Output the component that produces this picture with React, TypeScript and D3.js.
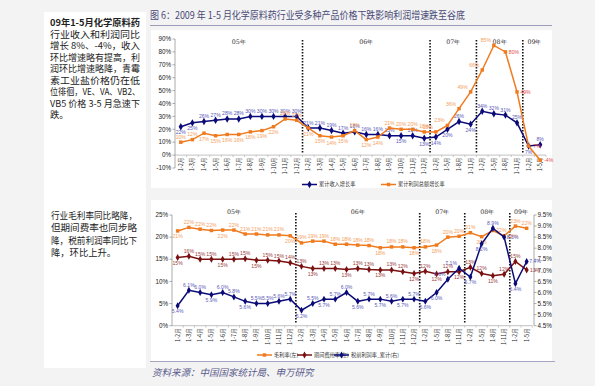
import React from "react";
import * as d3 from "d3";

// ---------- DATA ----------
const yearLabels = ["05年", "06年", "07年", "08年", "09年"];
const months05 = ["1-2月", "1-3月", "1-4月", "1-5月", "1-6月", "1-7月", "1-8月", "1-9月", "1-10月", "1-11月", "1-12月"];
const months06 = ["1-2月", "1-3月", "1-4月", "1-5月", "1-6月", "1-7月", "1-8月", "1-9月", "1-10月", "1-11月", "1-12月"];
const months07 = ["1-2月", "1-5月", "1-8月", "1-11月"];
const months08 = ["1-2月", "1-5月", "1-8月", "1-11月"];
const months09 = ["1-2月", "1-5月"];
const monthGroups = [months05, months06, months07, months08, months09];

// top chart (%)
const revenueGrowth = [22, 25, 26, 27, 28, 28, 30, 30, 30, 30, 30, 21, 21, 19, 17, 18, 16, 16, 15, 15, 15, 13, 14, 20, 26, 24, 34, 32, 31, 25, 7, 8];
const profitGrowth = [10, 12, 17, 15, 16, 16, 18, 19, 22, 28, 27, 21, 15, 14, 15, 19, 12, 14, 21, 20, 20, 18, 18, 23, 36, 49, 66, 85, 80, 49, 7, -4];
const topTicks = [-10, 0, 10, 20, 30, 40, 50, 60, 70, 80, 90];

// bottom chart
const grossMargin = [21.4, 22.2, 21.8, 21.5, 21.6, 21.6, 20.7, 20.7, 20.5, 20.5, 20.3, 18.7, 19.1, 19.1, 18.4, 18.4, 18.2, 18.1, 17.6, 17.8, 17.8, 17.6, 17.8, 18.2, 20.0, 20.2, 21.0, 20.1, 21.5, 20.3, 22.5, 22.0];
const expenseRate = [15.4, 15.7, 15.0, 15.0, 15.0, 15.0, 15.1, 14.8, 14.8, 14.6, 14.2, 13.4, 12.9, 12.9, 12.9, 12.7, 12.9, 12.7, 12.6, 12.6, 12.2, 11.8, 12.3, 11.7, 12.2, 12.2, 13.2, 11.8, 11.3, 11.6, 14.5, 12.6];
const pretaxMargin = [5.4, 6.1, 6.0, 5.9, 6.0, 5.8, 5.6, 5.5, 5.5, 5.6, 5.7, 5.2, 5.5, 5.7, 5.7, 6.0, 5.6, 5.7, 5.7, 5.6, 5.7, 5.7, 5.6, 6.0, 6.6, 7.1, 6.7, 8.2, 8.9, 8.5, 6.4, 7.4];
const leftTicks = [0, 5, 10, 15, 20, 25];
const rightTicks = [4.5, 5.0, 5.5, 6.0, 6.5, 7.0, 7.5, 8.0, 8.5, 9.0, 9.5];

const titleText = "图 6：2009 年 1-5 月化学原料药行业受多种产品价格下跌影响利润增速跌至谷底";
const sourceText = "资料来源：中国国家统计局、申万研究";
const para1 = ["09年1-5月化学原料药", "行业收入和利润同比", "增长 8%、-4%，收入", "环比增速略有提高，利", "润环比增速略降，青霉", "素工业盐价格仍在低", "位徘徊，VE、VA、VB2、", "VB5 价格 3-5 月急速下", "跌。"];
const para2 = ["行业毛利率同比略降，", "但期间费率也同步略", "降，税前利润率同比下", "降，环比上升。"];
const topLegend = ["累计收入增长率", "累计利润总额增长率"];
const bottomLegend = ["毛利率(左)", "期间费用率(左)", "税前利润率_累计(右)"];

// ---------- LABEL PLACEMENT (layout only) ----------
const pRev = "bbaaaaaaaaa" + "aaaaaaaabab" + "bbab" + "aaaa" + "ba";
const pPro = "aabbbbbbbaa" + "bbbbabbaaaa" + "llll" + "llrr" + "rr";
const pGross = "baaabaaaaab" + "aaaaaaabaab" + "abaa" + "abrr" + "aa";
const pExp = "baaabaabaaa" + "abaabaabaab" + "abab" + "aaba" + "ar";
const pPre = "baabaabaaaa" + "babaababab" + "a" + "bbll" + "bbar" + "br";

const allCats: string[] = [];
monthGroups.forEach((g, gi) => g.forEach((m) => allCats.push(yearLabels[gi] + "|" + m)));

const FONT = "'Liberation Sans', Arial, sans-serif";
const CJK = "'Noto Sans CJK SC', 'Noto Sans', sans-serif";

function lblPos(p: string, x: number, y: number) {
  switch (p) {
    case "b": return [x, y + 7.5];
    case "l": return [x - 8, y - 3];
    case "r": return [x + 8.5, y + 2];
    default: return [x, y - 3.5];
  }
}

function Chart({ x0, x1, yTop, yBot, yZero, series, yearY, legendY, legendItems, leftTickVals, leftScale, leftFmt, rightTickVals, rightFmt, rightX, dashTop }: any) {
  const x = d3.scalePoint<string>().domain(allCats).range([x0, x1]).padding(0.5);
  const step = x.step();
  const boundaries: number[] = [];
  const centers: number[] = [];
  let idx = 0;
  monthGroups.forEach((g, gi) => {
    const first = x(allCats[idx])!;
    const last = x(allCats[idx + g.length - 1])!;
    centers.push((first + last) / 2);
    idx += g.length;
    if (gi < monthGroups.length - 1) boundaries.push(last + step / 2);
  });
  return (
    <g>
      <line x1={x0} x2={x0} y1={yTop} y2={yBot} stroke="#888" strokeWidth={0.7} />
      {leftTickVals.map((t: number) => (
        <g key={"lt" + t}>
          <line x1={x0 - 2.5} x2={x0} y1={leftScale(t)} y2={leftScale(t)} stroke="#888" strokeWidth={0.7} />
          <text x={x0 - 4} y={leftScale(t) + 2.2} fontSize={6.3} fontFamily={FONT} textAnchor="end" fill="#222">{leftFmt(t)}</text>
        </g>
      ))}
      {rightTickVals && (
        <g>
          <line x1={rightX} x2={rightX} y1={yTop} y2={yBot} stroke="#888" strokeWidth={0.7} />
          {rightTickVals.map((t: number) => {
            const yy = yBot + (yTop - yBot) * (t - rightTickVals[0]) / (rightTickVals[rightTickVals.length - 1] - rightTickVals[0]);
            return (
              <g key={"rt" + t}>
                <line x1={rightX} x2={rightX + 2.5} y1={yy} y2={yy} stroke="#888" strokeWidth={0.7} />
                <text x={rightX + 3.5} y={yy + 2.2} fontSize={6.3} fontFamily={FONT} fill="#222">{rightFmt(t)}</text>
              </g>
            );
          })}
        </g>
      )}
      <line x1={x0} x2={x1} y1={yZero} y2={yZero} stroke="#999" strokeWidth={0.6} />
      {allCats.map((c) => (
        <g key={"tk" + c}>
          <line x1={x(c)! + step / 2} x2={x(c)! + step / 2} y1={yZero} y2={yZero + 2} stroke="#999" strokeWidth={0.5} />
          <text transform={`translate(${x(c)! + 2},${yZero + 2.5}) rotate(-90)`} fontSize={5.6} fontFamily={CJK} textAnchor="end" fill="#222">{c.split("|")[1]}</text>
        </g>
      ))}
      {yearLabels.map((yl, i) => (
        <text key={yl} x={centers[i]} y={yearY} fontSize={6.3} fontFamily="'DejaVu Serif', serif" textAnchor="middle" fill="#333">{yl}</text>
      ))}
      {boundaries.map((b, i) => (
        <line key={"bd" + i} x1={b} x2={b} y1={dashTop} y2={yZero - 2} stroke="#111" strokeWidth={1.6} strokeDasharray="1.6,1.4" />
      ))}
      {series.map((s: any, si: number) => {
        const line = d3.line<number>().x((_, i) => x(allCats[i])!).y((v) => s.scale(v));
        const sym = d3.symbol().type(s.symbol).size(s.symbolSize);
        return (
          <g key={"s" + si}>
            <path d={line(s.values)!} fill="none" stroke={s.color} strokeWidth={1.5} />
            {s.values.map((v: number, i: number) => (
              <path key={i} d={sym()!} transform={`translate(${x(allCats[i])},${s.scale(v)})`} fill={s.color} />
            ))}
            {s.values.map((v: number, i: number) => {
              const [lx, ly] = lblPos(s.place[i], x(allCats[i])!, s.scale(v));
              return (
                <text key={"l" + i} x={lx} y={ly} fontSize={5.1} fontFamily={FONT} textAnchor="middle" fill={s.labelColor(i)}>{s.fmt(v)}</text>
              );
            })}
          </g>
        );
      })}
      {legendItems.map((it: any, i: number) => {
        const sym = d3.symbol().type(it.symbol).size(it.symbolSize);
        return (
          <g key={"lg" + i}>
            <line x1={it.x} x2={it.x + 15} y1={legendY} y2={legendY} stroke={it.color} strokeWidth={1.5} />
            <path d={sym()!} transform={`translate(${it.x + 7.5},${legendY})`} fill={it.color} />
            <text x={it.x + 17} y={legendY + 1.9} fontSize={5.2} fontFamily={CJK} fill="#333">{it.label}</text>
          </g>
        );
      })}
    </g>
  );
}

export default function App() {
  const NAVY = "#0a0a78";
  const ORANGE = "#f07a1e";
  const DARKRED = "#7a1010";

  const yTop = d3.scaleLinear().domain([-10, 90]).range([168, 39]);
  const yL = d3.scaleLinear().domain([0, 25]).range([325.7, 215]);
  const yR = d3.scaleLinear().domain([4.5, 9.5]).range([325.7, 215]);

  const topSeries = [
    { values: revenueGrowth, scale: yTop, color: NAVY, symbol: d3.symbolDiamond, symbolSize: 16, place: pRev, fmt: (v: number) => v + "%", labelColor: () => "#5a5ab8" },
    { values: profitGrowth, scale: yTop, color: ORANGE, symbol: d3.symbolSquare, symbolSize: 12, place: pPro, fmt: (v: number) => v + "%", labelColor: (i: number) => (i >= 28 ? "#e8484a" : "#f3a060") },
  ];
  const bottomSeries = [
    { values: grossMargin, scale: yL, color: ORANGE, symbol: d3.symbolSquare, symbolSize: 12, place: pGross, fmt: (v: number) => Math.round(v) + "%", labelColor: () => "#f3a060" },
    { values: expenseRate, scale: yL, color: DARKRED, symbol: d3.symbolDiamond, symbolSize: 14, place: pExp, fmt: (v: number) => Math.round(v) + "%", labelColor: () => "#9a4040" },
    { values: pretaxMargin, scale: yR, color: NAVY, symbol: d3.symbolDiamond, symbolSize: 14, place: pPre, fmt: (v: number) => v.toFixed(1) + "%", labelColor: () => "#5a5ab8" },
  ];

  return (
    <svg width={595} height={386} style={{ position: "absolute", left: 0, top: 0, display: "block" }}>
      <rect x={0} y={0} width={595} height={386} fill="#f3f3f3" />
      <rect x={44} y={12} width={102} height={356} fill="#ffffff" />
      {para1.map((t, i) => (
        <text key={"p1" + i} x={50} y={26 + i * 11.5} fontSize={9.3} fontFamily={CJK} fill="#222" fontWeight={i === 0 ? 700 : 400}
          textLength={i < para1.length - 1 ? 90 : undefined} lengthAdjust="spacingAndGlyphs">{t}</text>
      ))}
      {para2.map((t, i) => (
        <text key={"p2" + i} x={51} y={219 + i * 12.3} fontSize={9.3} fontFamily={CJK} fill="#222"
          textLength={i < para2.length - 1 ? 86 : undefined} lengthAdjust="spacingAndGlyphs">{t}</text>
      ))}
      <text x={150} y={19} fontSize={10.3} fontFamily={CJK} fill="#4a4a78" textLength={315} lengthAdjust="spacingAndGlyphs">{titleText}</text>
      <line x1={150} x2={552} y1={25.5} y2={25.5} stroke="#9c9cbc" strokeWidth={1} />
      <rect x={151} y={30} width={401} height={158} fill="#ffffff" />
      <rect x={151} y={200} width={401} height={161} fill="#ffffff" />
      <Chart x0={175} x1={546} yTop={39} yBot={168} yZero={yTop(0)} series={topSeries} yearY={44} dashTop={40}
        legendY={184.5} leftTickVals={topTicks} leftScale={yTop} leftFmt={(t: number) => t + "%"}
        legendItems={[
          { x: 302, color: NAVY, symbol: d3.symbolDiamond, symbolSize: 16, label: topLegend[0] },
          { x: 381, color: ORANGE, symbol: d3.symbolSquare, symbolSize: 12, label: topLegend[1] },
        ]} />
      <Chart x0={172} x1={532.3} yTop={215} yBot={325.7} yZero={yL(0)} series={bottomSeries} yearY={214} dashTop={213}
        legendY={355} leftTickVals={leftTicks} leftScale={yL} leftFmt={(t: number) => t + "%"}
        rightTickVals={rightTicks} rightFmt={(t: number) => t.toFixed(1) + "%"} rightX={534}
        legendItems={[
          { x: 257, color: ORANGE, symbol: d3.symbolSquare, symbolSize: 12, label: bottomLegend[0] },
          { x: 297, color: DARKRED, symbol: d3.symbolDiamond, symbolSize: 14, label: bottomLegend[1] },
          { x: 334, color: NAVY, symbol: d3.symbolDiamond, symbolSize: 14, label: bottomLegend[2] },
        ]} />
      <line x1={150} x2={555} y1={361.5} y2={361.5} stroke="#a4a4c4" strokeWidth={1} />
      <text x={152} y={376} fontSize={9.5} fontFamily={CJK} fontStyle="italic" fill="#5a5a8c">{sourceText}</text>
    </svg>
  );
}
